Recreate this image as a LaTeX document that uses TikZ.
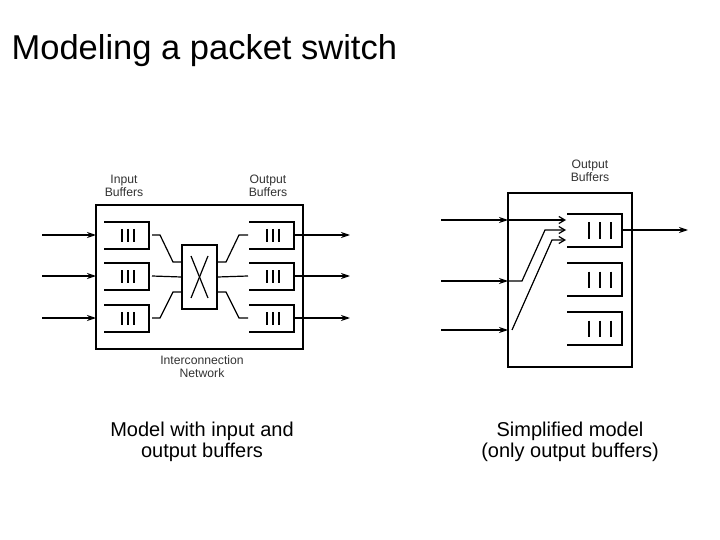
\documentclass[tikz,border=0pt]{standalone}
\usepackage{fontspec}
\setmainfont{Liberation Sans}
\usetikzlibrary{arrows.meta}
\begin{document}
\begin{tikzpicture}[x=1pt,y=-1pt,line width=1.2pt,
  arr/.style={-{Stealth[length=9pt,width=6pt]}},
  barb/.style={-{Straight Barb[length=6pt,width=7pt]}},
  lbl/.style={font=\fontsize{12.2}{13}\selectfont,align=center,text=black!80},
  captxt/.style={font=\fontsize{20}{21}\selectfont,align=center}]
\useasboundingbox (0,0) rectangle (720,540);
\node[anchor=base west,inner sep=0,font=\fontsize{34.5}{36}\selectfont] (title) at (11,60) {Modeling a packet switch};
% left diagram
\node[draw,minimum width=207pt,minimum height=144pt,inner sep=0] (box1) at (199.5,277) {};
\node[draw,minimum width=35pt,minimum height=64pt,inner sep=0] (sw) at (199.5,277) {};
\coordinate (xa) at (191,256); \coordinate (xb) at (208,298);
\coordinate (xc) at (208,256); \coordinate (xd) at (191,298);
\draw (xa) -- (xb); \draw (xc) -- (xd);
\foreach \i/\y in {1/235,2/276,3/318}{
  \draw (104,\y-13) -- (149,\y-13) -- (149,\y+14) -- (104,\y+14);
  \draw (249,\y-13) -- (294,\y-13) -- (294,\y+14) -- (249,\y+14);
  \foreach \x in {122,128,134,267,273,279} \draw (\x,\y-6) -- (\x,\y+7);
  \coordinate (in\i) at (42,\y); \coordinate (ib\i) at (96,\y);
  \coordinate (ob\i) at (294,\y); \coordinate (out\i) at (350,\y);
  \draw[arr] (in\i) -- (ib\i);
  \draw[arr] (ob\i) -- (out\i);
}
\draw (152,235) -- (160,235) -- (173,262) -- (sw.west |- 0,262);
\draw (152,276) -- (sw.west);
\draw (152,318) -- (160,318) -- (173,292) -- (sw.west |- 0,292);
\draw (sw.east |- 0,262) -- (226,262) -- (239,235) -- (248,235);
\draw (sw.east) -- (248,276);
\draw (sw.east |- 0,292) -- (226,292) -- (239,318) -- (248,318);
\node[lbl] (ilbl) at (124,186) {Input\\Buffers};
\node[lbl] (olbl) at (268,186) {Output\\Buffers};
\node[lbl] (nlbl) at (202,367) {Interconnection\\Network};
\node[captxt] (cap1) at (202,442) {Model with input and\\output buffers};
% right diagram
\node[draw,minimum width=124pt,minimum height=174pt,inner sep=0] (box2) at (570,280) {};
\foreach \y in {230.5,279.5,328.5}{
  \draw (567,\y-16.5) -- (622,\y-16.5) -- (622,\y+16.5) -- (567,\y+16.5);
  \foreach \x in {589,600,611} \draw (\x,\y-8) -- (\x,\y+8);
}
\foreach \i/\y in {1/220,2/281,3/330}{
  \coordinate (rin\i) at (441,\y); \coordinate (rb\i) at (508,\y);
  \draw[arr] (rin\i) -- (rb\i);
}
\coordinate (t1) at (566,220); \coordinate (t2) at (566,230); \coordinate (t3) at (566,240);
\draw[barb] (rb1) -- (t1);
\draw[barb] (rb2) -- (522,281) -- (545,230) -- (t2);
\draw[barb] (512,330) -- (552,240) -- (t3);
\coordinate (rout) at (688,230);
\draw[arr] (622,230) -- (rout);
\node[lbl] (rlbl) at (590,171) {Output\\Buffers};
\node[captxt] (cap2) at (570,442) {Simplified model\\(only output buffers)};
\end{tikzpicture}
\end{document}
